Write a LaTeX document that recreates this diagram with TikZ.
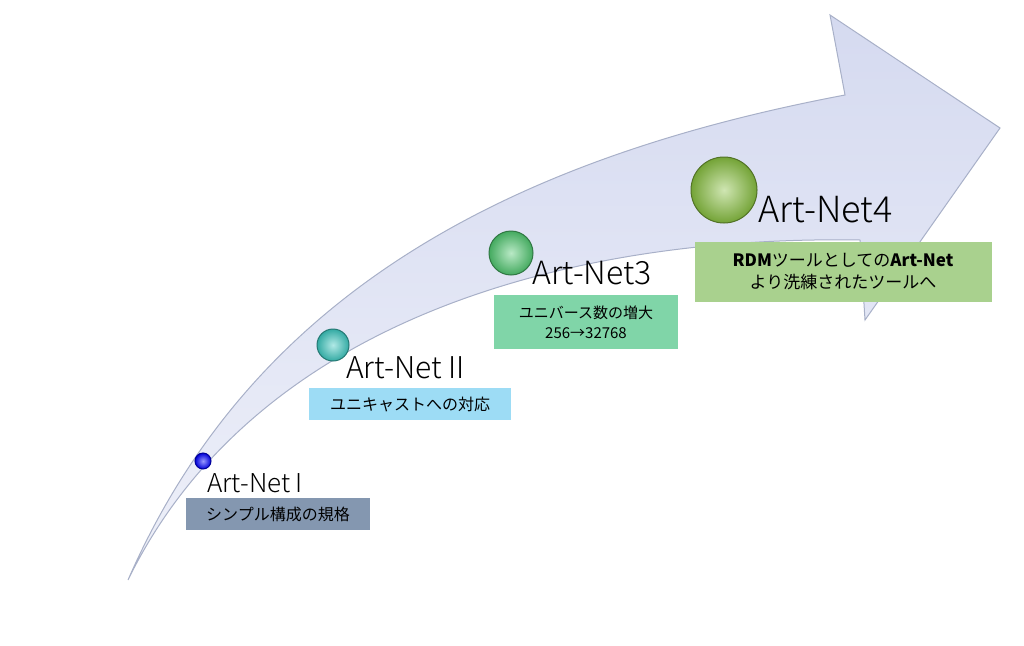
\documentclass[tikz,border=0pt]{standalone}
\usepackage{fontspec}
\setmainfont{Noto Sans CJK JP}
\newfontfamily\lab{Noto Sans CJK JP Light}
\usetikzlibrary{shadings}
\definecolor{arrowfill}{HTML}{D5DAF0}
\definecolor{arrowline}{HTML}{A8B0C8}
\definecolor{bA}{HTML}{8497B0}
\definecolor{bB}{HTML}{9DDCF5}
\definecolor{bC}{HTML}{80D5A8}
\definecolor{bD}{HTML}{A9D18E}
\definecolor{tq}{HTML}{3CC8C0}
\definecolor{gr}{HTML}{50C870}
\definecolor{lg}{HTML}{88C040}
\tikzset{
  lbox/.style={inner sep=2pt,align=center,font=\fontsize{16}{20}\selectfont},
  ttl/.style={anchor=west,inner sep=0pt,font=\lab},
  ball/.style={circle,draw=#1!60!black,line width=1pt,inner color=#1!40!white,outer color=#1!85!black}
}
\begin{document}
\begin{tikzpicture}[x=1pt,y=-1pt]
\useasboundingbox (0,0) rectangle (1024,645);
\shade[top color=arrowfill, bottom color=white!60!arrowfill, draw=arrowline, line width=1pt]
 (128,580) .. controls (250,300) and (500,160) .. (845,95)
 -- (830,15) -- (1000,128) -- (865,320) -- (860,240)
 .. controls (550,235) and (250,330) .. (128,580) -- cycle;
\node[ball=blue, minimum size=16pt] (c1) at (203,461) {};
\node[ball=tq, minimum size=32pt] (c2) at (333,345) {};
\node[ball=gr, minimum size=44pt] (c3) at (511,253) {};
\node[ball=lg, minimum size=66pt] (c4) at (724,190) {};
\node[ttl, font=\lab\fontsize{26}{30}\selectfont] (t1) at (207,483) {Art-Net I};
\node[ttl, font=\lab\fontsize{30}{34}\selectfont] (t2) at (346,368) {Art-Net II};
\node[ttl, font=\lab\fontsize{32}{36}\selectfont] (t3) at (532,273) {Art-Net3};
\node[ttl, font=\lab\fontsize{36}{40}\selectfont] (t4) at (758,210) {Art-Net4};
\fill[bA] (186,498) rectangle (370,530);
\node[lbox] (b1) at (278,514) {シンプル構成の規格};
\fill[bB] (309,388) rectangle (511,420);
\node[lbox] (b2) at (410,404) {ユニキャストへの対応};
\fill[bC] (494,295) rectangle (678,349);
\node[lbox,font=\fontsize{15}{20}\selectfont] (b3) at (586,322) {ユニバース数の増大\\256→32768};
\fill[bD] (695,242) rectangle (992,302);
\node[lbox,font=\fontsize{17}{22}\selectfont] (b4) at (843,272) {\textbf{RDM}ツールとしての\textbf{Art-Net}\\より洗練されたツールへ};
\end{tikzpicture}
\end{document}
